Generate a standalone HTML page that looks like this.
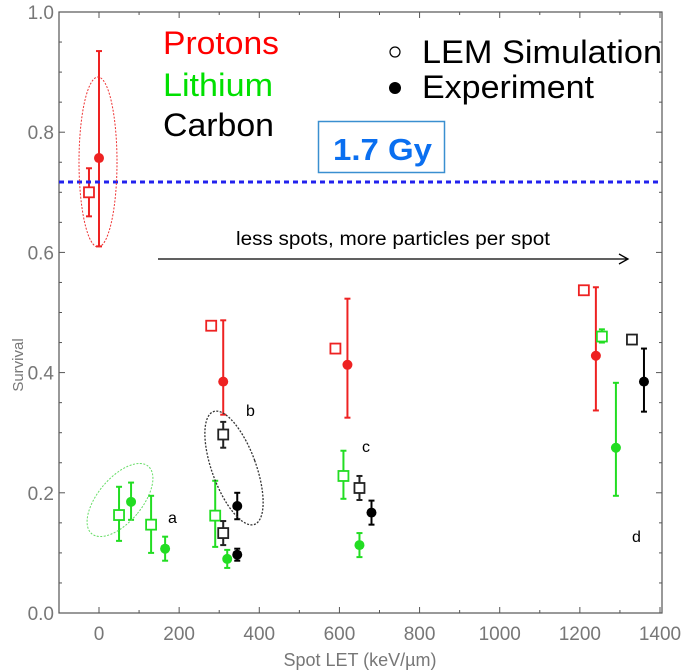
<!DOCTYPE html>
<html><head><meta charset="utf-8"><style>
html,body{margin:0;padding:0;background:#fff;}
svg{display:block;font-family:"Liberation Sans",sans-serif;}
</style></head><body>
<svg id="chart" width="685" height="671" viewBox="0 0 685 671" xmlns="http://www.w3.org/2000/svg">
<g id="axes"></g>
<g id="marks"></g>
<g>
<text x="163" y="54" font-size="32" textLength="116" lengthAdjust="spacingAndGlyphs" fill="#ff0000">Protons</text>
<text x="163" y="96" font-size="32" textLength="110" lengthAdjust="spacingAndGlyphs" fill="#00e000">Lithium</text>
<text x="163" y="136" font-size="32" textLength="111" lengthAdjust="spacingAndGlyphs" fill="#000">Carbon</text>
<circle cx="395" cy="52" r="5" fill="none" stroke="#000" stroke-width="1.2"/>
<text x="422" y="63" font-size="32" textLength="240" lengthAdjust="spacingAndGlyphs" fill="#000">LEM Simulation</text>
<circle cx="395" cy="88" r="6" fill="#000"/>
<text x="422" y="98" font-size="32" textLength="172" lengthAdjust="spacingAndGlyphs" fill="#000">Experiment</text>
<rect x="318.5" y="121.5" width="126" height="51" fill="#fff" stroke="#3a8fd0" stroke-width="1.5"/>
<text x="333" y="160" font-size="31" textLength="99" lengthAdjust="spacingAndGlyphs" font-weight="bold" fill="#0a6ff0">1.7 Gy</text>
<line x1="59" y1="182" x2="662" y2="182" stroke="#2222ee" stroke-width="3" stroke-dasharray="5,4"/>
<text x="236" y="245" font-size="19" textLength="314" lengthAdjust="spacingAndGlyphs" fill="#000">less spots, more particles per spot</text>
<line x1="158" y1="259" x2="627" y2="259" stroke="#000" stroke-width="1.3"/>
<path d="M619 254 L628 259 L619 264" fill="none" stroke="#000" stroke-width="1.3"/>
<text x="168" y="523" font-size="16">a</text>
<text x="246" y="416" font-size="16">b</text>
<text x="362" y="452" font-size="16">c</text>
<text x="632" y="542" font-size="16">d</text>
<ellipse cx="98" cy="162" rx="19" ry="85" fill="none" stroke="#ee3333" stroke-width="1" stroke-dasharray="2,1.5"/>
<ellipse cx="120" cy="500" rx="22" ry="44" transform="rotate(40 120 500)" fill="none" stroke="#66dd66" stroke-width="1" stroke-dasharray="2,1.5"/>
<ellipse cx="234" cy="468" rx="22" ry="60" transform="rotate(-20 234 468)" fill="none" stroke="#333" stroke-width="1.3" stroke-dasharray="2,1.5"/>
</g>
</svg>
<script>
// Data
const xTicks = [0,200,400,600,800,1000,1200,1400];
const yTicks = [0.0,0.2,0.4,0.6,0.8,1.0];
const protonSimX = [-25,280,590,1210];
const protonSimY = [0.70,0.478,0.44,0.537];
const protonSimErr = [0.04,0.003,0.003,0.003];
const protonExpX = [0,310,620,1240];
const protonExpY = [0.757,0.385,0.413,0.428];
const protonExpLo = [0.61,0.33,0.325,0.337];
const protonExpHi = [0.935,0.487,0.523,0.542];
const lithiumSimX = [50,130,290,610,1255];
const lithiumSimY = [0.163,0.147,0.162,0.228,0.46];
const lithiumSimLo = [0.12,0.10,0.11,0.19,0.45];
const lithiumSimHi = [0.21,0.195,0.22,0.27,0.472];
const lithiumExpX = [80,165,320,650,1290];
const lithiumExpY = [0.185,0.107,0.09,0.113,0.275];
const lithiumExpLo = [0.155,0.087,0.075,0.093,0.195];
const lithiumExpHi = [0.217,0.127,0.105,0.133,0.383];
const carbonSimX = [310,310,650,1330];
const carbonSimY = [0.297,0.133,0.208,0.455];
const carbonSimLo = [0.275,0.113,0.188,0.45];
const carbonSimHi = [0.318,0.153,0.228,0.46];
const carbonExpX = [345,345,680,1360];
const carbonExpY = [0.178,0.097,0.167,0.385];
const carbonExpLo = [0.156,0.087,0.147,0.335];
const carbonExpHi = [0.2,0.107,0.187,0.44];

const L=59,R=662,T=12,B=613;
function sx(v){return 99 + v*(660-99)/1400;}
function sy(v){return B - v*(B-T);}
const NS='http://www.w3.org/2000/svg';
function mk(tag,attrs,parent){const e=document.createElementNS(NS,tag);for(const k in attrs)e.setAttribute(k,attrs[k]);parent.appendChild(e);return e;}
const axes=document.getElementById('axes'), marks=document.getElementById('marks');
const frame=mk('rect',{x:L,y:T,width:R-L,height:B-T,fill:'none',stroke:'#555','stroke-width':1.2},axes);


for(let v=-100;v<=1400;v+=100){
  const x=sx(v); if(x<L+1)continue; const len=(v%200===0)?6:3;
  const t=mk('line',{x1:x,y1:B,x2:x,y2:B-len,stroke:'#555'},axes);
  
  
  const t2=mk('line',{x1:x,y1:T,x2:x,y2:T+len,stroke:'#555'},axes);
  
  
}
xTicks.forEach(v=>{
  const t=mk('text',{x:sx(v),y:640,'font-size':19,fill:'#777','text-anchor':'middle'},axes);
  t.textContent=v;
  
  
});
for(let i=0;i<=20;i++){
  const v=i*0.05,y=sy(v),len=(i%4===0)?6:3;
  const t=mk('line',{x1:L,y1:y,x2:L+len,y2:y,stroke:'#555'},axes);
  
  
  const t2=mk('line',{x1:R,y1:y,x2:R-len,y2:y,stroke:'#555'},axes);
  
  
}
yTicks.forEach(v=>{
  const t=mk('text',{x:54,y:sy(v)+7,'font-size':19,fill:'#777','text-anchor':'end'},axes);
  t.textContent=v.toFixed(1);
  
  
});
const xt=mk('text',{x:360,y:666,'font-size':18,fill:'#777','text-anchor':'middle'},axes);
xt.textContent='Spot LET (keV/\u00b5m)';


const yt=mk('text',{x:0,y:0,'font-size':15,fill:'#777','text-anchor':'middle',transform:'translate(23,365) rotate(-90)'},axes);
yt.textContent='Survival';



function errbar(x,lo,hi,col,name){
  const g=mk('g',{stroke:col,'stroke-width':2},marks);
  
  
  mk('line',{x1:sx(x),y1:sy(lo),x2:sx(x),y2:sy(hi)},g);
  mk('line',{x1:sx(x)-3,y1:sy(lo),x2:sx(x)+3,y2:sy(lo)},g);
  mk('line',{x1:sx(x)-3,y1:sy(hi),x2:sx(x)+3,y2:sy(hi)},g);
}
function series(xs,ys,los,his,col,kind,name){
  xs.forEach((x,i)=>{
    errbar(x,los[i],his[i],col,name);
    let m;
    if(kind==='sim'){
      m=mk('rect',{x:sx(x)-5,y:sy(ys[i])-5,width:10,height:10,fill:'#fff',stroke:col,'stroke-width':1.8},marks);
    } else {
      m=mk('circle',{cx:sx(x),cy:sy(ys[i]),r:5,fill:col},marks);
    }
    
    
  });
}
series(protonSimX,protonSimY,protonSimY.map((v,i)=>v-protonSimErr[i]),protonSimY.map((v,i)=>v+protonSimErr[i]),'#ee2222','sim','protons-sim');
series(protonExpX,protonExpY,protonExpLo,protonExpHi,'#ee2222','exp','protons-exp');
series(lithiumSimX,lithiumSimY,lithiumSimLo,lithiumSimHi,'#22dd22','sim','lithium-sim');
series(lithiumExpX,lithiumExpY,lithiumExpLo,lithiumExpHi,'#22dd22','exp','lithium-exp');
series(carbonSimX,carbonSimY,carbonSimLo,carbonSimHi,'#222','sim','carbon-sim');
series(carbonExpX,carbonExpY,carbonExpLo,carbonExpHi,'#000','exp','carbon-exp');
</script>
</body></html>
